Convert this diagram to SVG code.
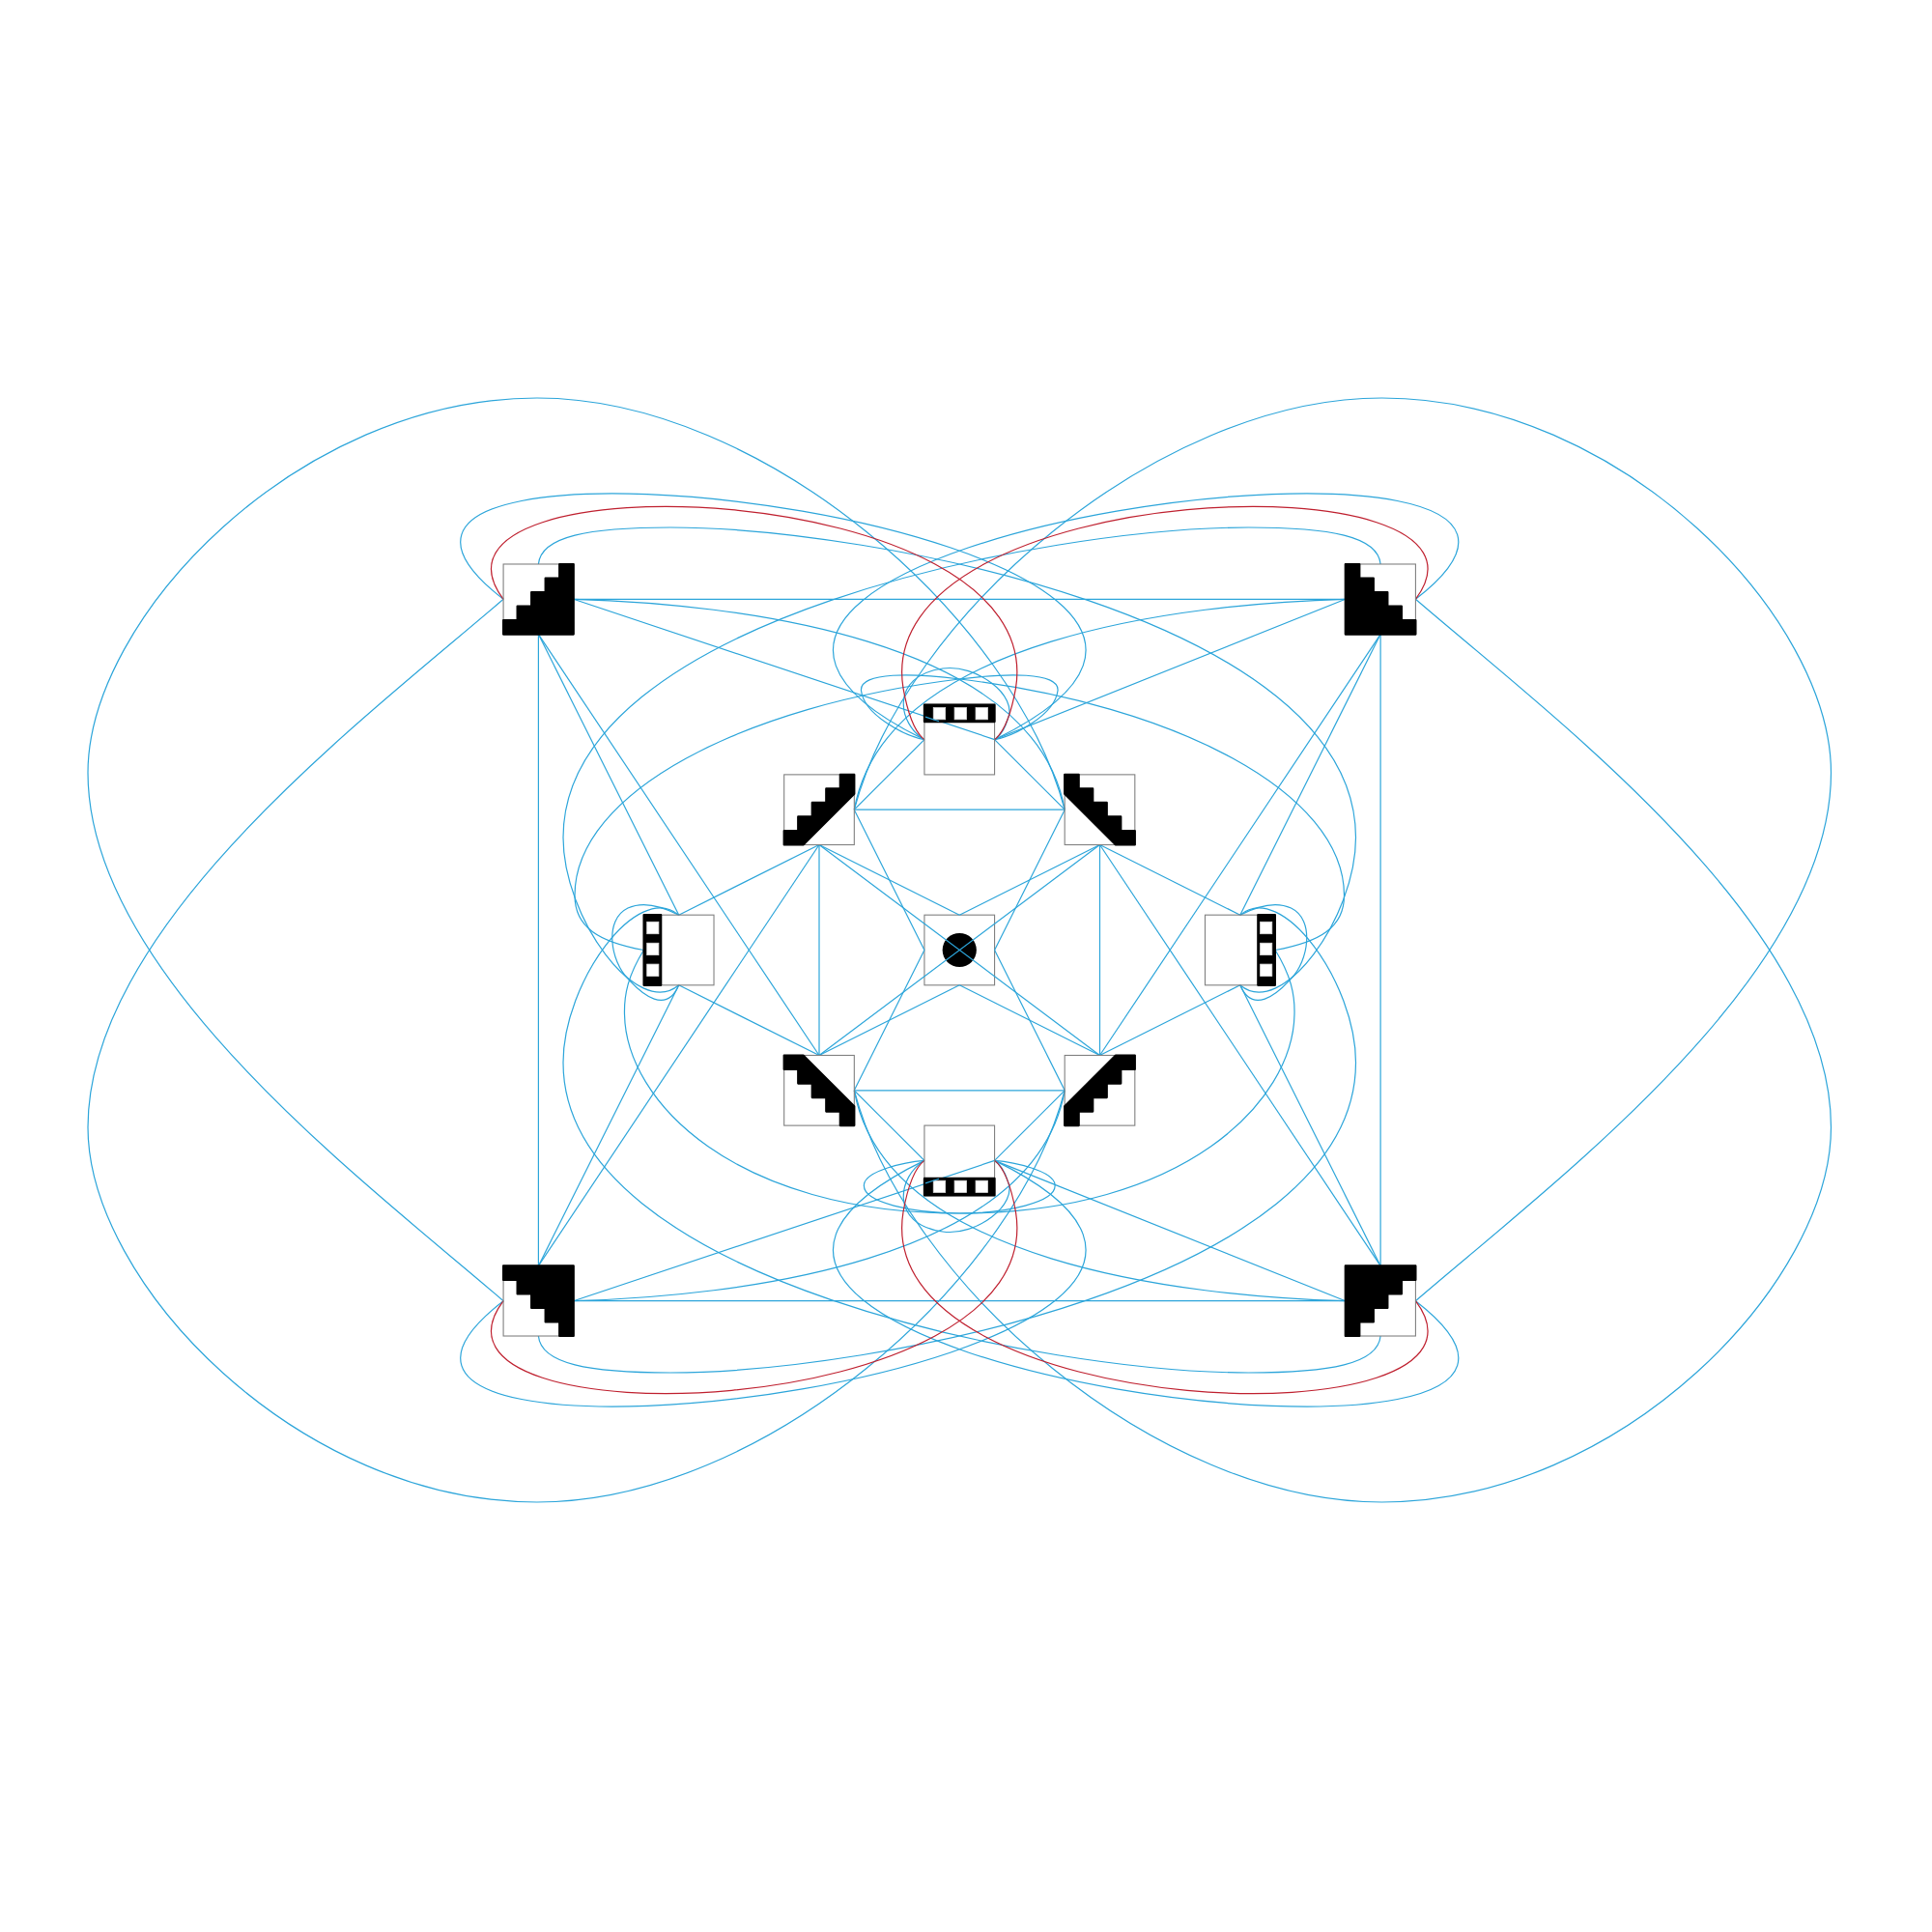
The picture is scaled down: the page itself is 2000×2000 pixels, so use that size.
<svg xmlns="http://www.w3.org/2000/svg" width="2000" height="2000" viewBox="0 0 2000 2000">
<style>
.bg{fill:#fff}
.box{fill:none;stroke:#808080;stroke-width:1.1}
.ink{fill:#000;stroke:#000;stroke-width:2.2;stroke-linejoin:round}
.hole{fill:#fff;stroke:#ddd;stroke-width:.8}
.edge{fill:none;stroke:#2ca5da;stroke-width:1.2}
.hot{fill:none;stroke:#bf202f;stroke-width:1.2}
</style>
<defs>
<rect id="frame" class="box" x="-36.32" y="-36.32" width="72.64" height="72.64"/>
<polygon id="stair" class="ink" points="21.79,-36.32 36.32,-36.32 36.32,36.32 -36.32,36.32 -36.32,21.79 -21.79,21.79 -21.79,7.26 -7.26,7.26 -7.26,-7.26 7.26,-7.26 7.26,-21.79 21.79,-21.79"/>
<polygon id="ramp" class="ink" points="21.79,-36.32 36.32,-36.32 36.32,-16.5 -16.5,36.32 -36.32,36.32 -36.32,21.79 -21.79,21.79 -21.79,7.26 -7.26,7.26 -7.26,-7.26 7.26,-7.26 7.26,-21.79 21.79,-21.79"/>
<g id="bar">
<rect class="ink" x="-36.32" y="-36.1" width="72.64" height="17.6"/>
<rect class="hole" x="-27" y="-33" width="12.4" height="12.2"/>
<rect class="hole" x="-5.15" y="-33" width="12.4" height="12.2"/>
<rect class="hole" x="16.8" y="-33" width="12.4" height="12.2"/>
</g>
<path id="lobe" class="edge" d="M521.1,1346.7C380,1225 91,1010 91,800C91,640 308,412 556,412C790,412 1050,640 1102.2,838.2"/>
<path id="outer" class="edge" d="M521.1,620.3C232,396 1466,553 1029.6,765.6"/>
<path id="inner" class="edge" d="M557.4,584C560,555 610,546 694,546C900,546 1403.5,640 1403.5,867C1403.5,950 1326.5,1056 1283.8,1019.8"/>
<path id="arcAJ" class="edge" d="M593.7,620.3C760,625 1070,660 1102.2,838.2"/>
<path id="gToE" class="edge" d="M666.4,983.5C620,975 595,960 595,927C595,820 770,730 993,703C1040,697 1097,695 1095,715C1092,740 1050,762 1029.6,765.6"/>
<path id="gToF" class="edge" d="M666.4,983.5C650,1010 646,1030 646.5,1050C648,1140 760,1256 993,1256C1040,1256 1095,1245 1092,1226C1090,1212 1050,1203 1029.6,1201.4"/>
<path id="loopE" class="edge" d="M956.9,765.6C930,750 920,700 976,692C1010,687 1055,720 1043,745C1040,755 1035,762 1029.6,765.6"/>
<path id="loopG" class="edge" d="M702.7,947.2C685,938 665,933 650,940C625,952 632,995 650,1013C665,1030 690,1050 702.7,1019.8"/>
<path id="redArc" class="hot" d="M521.1,620.3C408.5,471 1087.4,492 1051.5,712.4C1048,732 1042,756 1029.6,765.6"/>
</defs>
<rect class="bg" width="2000" height="2000"/>
<g id="node-M" transform="translate(993.25,983.5)"><use href="#frame"/><circle r="17.6" fill="#000"/></g>
<g id="connectors">
<path class="edge" d="M593.7,620.3H1392.8"/>
<path class="edge" d="M593.7,1346.7H1392.8"/>
<path class="edge" d="M557.4,656.6V1310.4"/>
<path class="edge" d="M1429.1,656.6V1310.4"/>
<path class="edge" d="M593.7,620.3L1029.6,765.6"/>
<path class="edge" d="M1392.8,620.3L1029.6,765.6"/>
<path class="edge" d="M593.7,1346.7L1029.6,1201.4"/>
<path class="edge" d="M1392.8,1346.7L1029.6,1201.4"/>
<path class="edge" d="M557.4,656.6L702.7,947.2"/>
<path class="edge" d="M557.4,656.6L848,1092.5"/>
<path class="edge" d="M557.4,1310.4L702.7,1019.8"/>
<path class="edge" d="M557.4,1310.4L848,874.5"/>
<path class="edge" d="M1429.1,656.6L1283.8,947.2"/>
<path class="edge" d="M1429.1,656.6L1138.5,1092.5"/>
<path class="edge" d="M1429.1,1310.4L1283.8,1019.8"/>
<path class="edge" d="M1429.1,1310.4L1138.5,874.5"/>
<path class="edge" d="M848,874.5L702.7,947.2"/>
<path class="edge" d="M848,874.5V1092.5"/>
<path class="edge" d="M848,874.5L993.25,947.2"/>
<path class="edge" d="M848,874.5L1138.5,1092.5"/>
<path class="edge" d="M1138.5,874.5L1283.8,947.2"/>
<path class="edge" d="M1138.5,874.5V1092.5"/>
<path class="edge" d="M1138.5,874.5L993.25,947.2"/>
<path class="edge" d="M1138.5,874.5L848,1092.5"/>
<path class="edge" d="M848,1092.5L702.7,1019.8"/>
<path class="edge" d="M848,1092.5L993.25,1019.8"/>
<path class="edge" d="M1138.5,1092.5L1283.8,1019.8"/>
<path class="edge" d="M1138.5,1092.5L993.25,1019.8"/>
<path class="edge" d="M884.3,838.2H1102.2"/>
<path class="edge" d="M884.3,1128.8H1102.2"/>
<path class="edge" d="M884.3,838.2L956.9,765.6"/>
<path class="edge" d="M1102.2,838.2L1029.6,765.6"/>
<path class="edge" d="M884.3,1128.8L956.9,1201.4"/>
<path class="edge" d="M1102.2,1128.8L1029.6,1201.4"/>
<path class="edge" d="M884.3,838.2L956.9,983.5"/>
<path class="edge" d="M884.3,1128.8L956.9,983.5"/>
<path class="edge" d="M1102.2,838.2L1029.6,983.5"/>
<path class="edge" d="M1102.2,1128.8L1029.6,983.5"/>
<use href="#lobe"/><use href="#lobe" transform="matrix(-1 0 0 1 1986.5 0)"/><use href="#lobe" transform="matrix(1 0 0 -1 0 1967)"/><use href="#lobe" transform="matrix(-1 0 0 -1 1986.5 1967)"/>
<use href="#outer"/><use href="#outer" transform="matrix(-1 0 0 1 1986.5 0)"/><use href="#outer" transform="matrix(1 0 0 -1 0 1967)"/><use href="#outer" transform="matrix(-1 0 0 -1 1986.5 1967)"/>
<use href="#inner"/><use href="#inner" transform="matrix(-1 0 0 1 1986.5 0)"/><use href="#inner" transform="matrix(1 0 0 -1 0 1967)"/><use href="#inner" transform="matrix(-1 0 0 -1 1986.5 1967)"/>
<use href="#arcAJ"/><use href="#arcAJ" transform="matrix(-1 0 0 1 1986.5 0)"/><use href="#arcAJ" transform="matrix(1 0 0 -1 0 1967)"/><use href="#arcAJ" transform="matrix(-1 0 0 -1 1986.5 1967)"/>
<use href="#gToE"/><use href="#gToE" transform="matrix(-1 0 0 1 1986.5 0)"/>
<use href="#gToF"/><use href="#gToF" transform="matrix(-1 0 0 1 1986.5 0)"/>
<use href="#loopE"/><use href="#loopE" transform="matrix(1 0 0 -1 0 1967)"/>
<use href="#loopG"/><use href="#loopG" transform="matrix(-1 0 0 1 1986.5 0)"/>
<use href="#redArc"/><use href="#redArc" transform="matrix(-1 0 0 1 1986.5 0)"/><use href="#redArc" transform="matrix(1 0 0 -1 0 1967)"/><use href="#redArc" transform="matrix(-1 0 0 -1 1986.5 1967)"/>
</g>
<g id="node-A" transform="translate(557.4,620.3)"><use href="#frame"/><use href="#stair"/></g>
<g id="node-B" transform="translate(1429.1,620.3)"><use href="#frame"/><use href="#stair" transform="scale(-1,1)"/></g>
<g id="node-C" transform="translate(557.4,1346.7)"><use href="#frame"/><use href="#stair" transform="scale(1,-1)"/></g>
<g id="node-D" transform="translate(1429.1,1346.7)"><use href="#frame"/><use href="#stair" transform="scale(-1,-1)"/></g>
<g id="node-I" transform="translate(848,838.2)"><use href="#frame"/><use href="#ramp"/></g>
<g id="node-J" transform="translate(1138.5,838.2)"><use href="#frame"/><use href="#ramp" transform="scale(-1,1)"/></g>
<g id="node-K" transform="translate(848,1128.8)"><use href="#frame"/><use href="#ramp" transform="scale(1,-1)"/></g>
<g id="node-L" transform="translate(1138.5,1128.8)"><use href="#frame"/><use href="#ramp" transform="scale(-1,-1)"/></g>
<g id="node-E" transform="translate(993.25,765.6)"><use href="#frame"/><use href="#bar"/></g>
<g id="node-F" transform="translate(993.25,1201.4)"><use href="#frame"/><use href="#bar" transform="scale(1,-1)"/></g>
<g id="node-G" transform="translate(702.7,983.5)"><use href="#frame"/><use href="#bar" transform="rotate(-90)"/></g>
<g id="node-H" transform="translate(1283.8,983.5)"><use href="#frame"/><use href="#bar" transform="scale(-1,1) rotate(-90)"/></g>
<g id="connector-slivers">
<path class="edge" d="M958,742.1L972,746.8"/>
<path class="edge" d="M958,1224.9L972,1220.2"/>
</g>
</svg>
